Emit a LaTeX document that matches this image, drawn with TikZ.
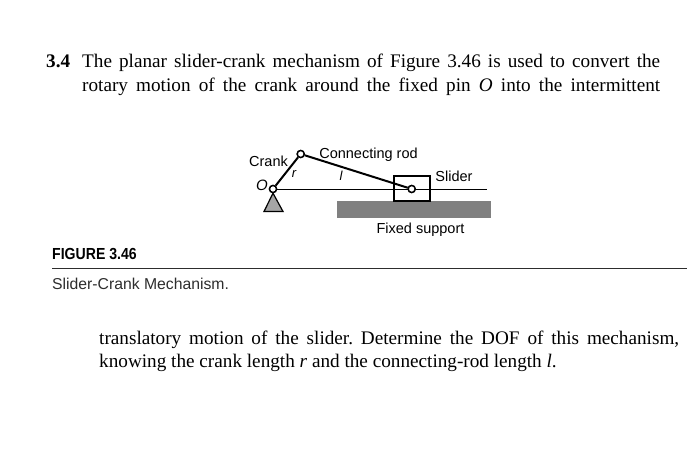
\documentclass[tikz,border=0pt]{standalone}
\usepackage{fontspec}
\setmainfont{Liberation Serif}
\setsansfont{Liberation Sans}
\newfontfamily\headfont[FakeStretch=0.88]{Liberation Sans}
\usetikzlibrary{positioning}
\definecolor{supportgray}{RGB}{128, 128, 128}
\definecolor{pingray}{RGB}{165, 165, 165}
\definecolor{inkgray}{RGB}{45, 45, 45}
\newcommand{\bookline}[2]{\makebox[#1][s]{\frenchspacing #2}}

\begin{document}
\begin{tikzpicture}
  [
    x = 1pt,
    y = -1pt,
    booktext/.style={anchor=base west,inner sep=0pt,font=\fontsize{19.2}{22}\selectfont},
    labeltext/.style={inner sep=0pt,font=\sffamily\fontsize{14.5}{17}\selectfont},
    rod/.style={draw,line width=2pt},
    pin/.style={circle,draw,fill=white,line width=1.4pt,inner sep=0pt,minimum size=7pt}
  ]
  \useasboundingbox (0,0) rectangle (700,454);
  % problem statement
  \node [booktext] (num) at (46,67.5) {\textbf{3.4}};
  \node [booktext] (lineA) at (82,67.5) {\bookline{578pt}{The planar slider-crank mechanism of Figure 3.46 is used to convert the}};
  \node [booktext] (lineB) at (82,91.5) {\bookline{578pt}{rotary motion of the crank around the fixed pin \textit{O} into the intermittent}};
  % mechanism
  \coordinate (guideend) at (487,189);
  \node [fill=supportgray,minimum width=154pt,minimum height=17pt,inner sep=0pt] (support) at (414,209.5) {};
  \node [draw,fill=white,line width=1.3pt,minimum width=36pt,minimum height=25pt,inner sep=0pt] (slider) at (412,188.5) {};
  \node [pin] (o) at (273,189) {};
  \node [pin] (a) at (300.7,154) {};
  \node [pin] (b) at (411.7,189) {};
  \coordinate (baseL) at (264,211.5);
  \coordinate (baseR) at (283,211.5);
  \draw [fill=pingray,line width=1.2pt] (o.south) -- (baseR) -- (baseL) -- cycle;
  \draw [line width=0.8pt] (o) -- (guideend);
  \draw [rod] (o) -- (a);
  \draw [rod] (a) -- (b);
  \node [pin] at (o) {};
  \node [pin] at (a) {};
  \node [pin] at (b) {};
  \node [labeltext] (crank) at (268.5,161.5) {Crank};
  \node [labeltext] (rodlabel) at (368.5,154.5) {Connecting rod};
  \node [labeltext] (sliderlabel) at (454,176.5) {Slider};
  \node [labeltext] (fixed) at (420.5,229.5) {Fixed support};
  \node [labeltext,font=\sffamily\itshape\fontsize{15}{17}\selectfont] (olabel) at (262,185.5) {O};
  \node [labeltext,font=\sffamily\itshape\fontsize{13}{15}\selectfont] (rlabel) at (294,174) {r};
  \node [labeltext,font=\sffamily\itshape\fontsize{13}{15}\selectfont] (llabel) at (341,176) {l};
  % caption
  \node [inner sep=0pt,anchor=base west,font=\headfont\bfseries\fontsize{16}{18}\selectfont] (figlabel) at (52,259.5) {FIGURE 3.46};
  \coordinate (ruleL) at (52,268);
  \coordinate (ruleR) at (687,268);
  \draw [inkgray,line width=1pt] (ruleL) -- (ruleR);
  \node [inner sep=0pt,anchor=base west,text=inkgray,font=\sffamily\fontsize{15.75}{18}\selectfont] (figcaption) at (52,289.5) {Slider-Crank Mechanism.};
  % continuation
  \node [booktext] (lineC) at (99,344.5) {\bookline{580pt}{translatory motion of the slider. Determine the DOF of this mechanism,}};
  \node [booktext] (lineD) at (99,367.5) {knowing the crank length \textit{r} and the connecting-rod length \textit{l}.};
\end{tikzpicture}
\end{document}
